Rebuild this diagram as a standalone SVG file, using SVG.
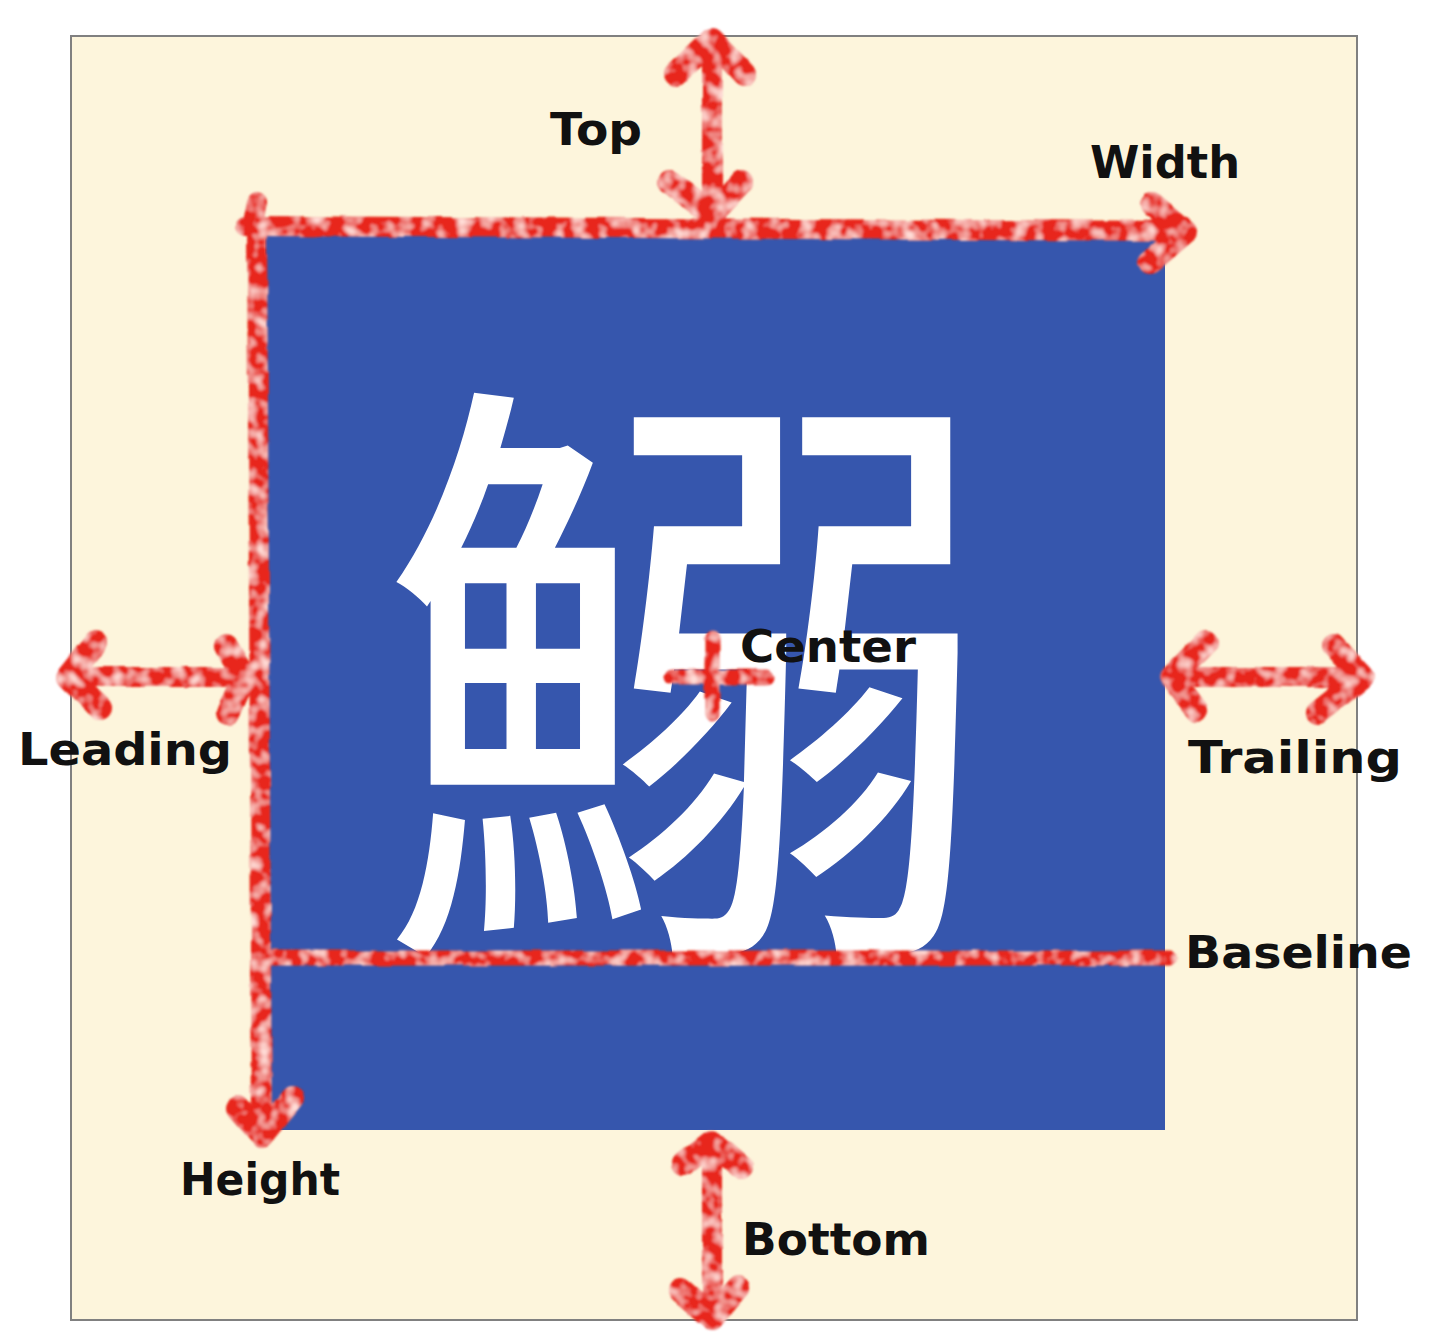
<svg xmlns="http://www.w3.org/2000/svg" width="1448" height="1338" viewBox="0 0 1448 1338">
<style>
.lbl{font-family:"DejaVu Sans","Liberation Sans",sans-serif;font-size:44px;font-weight:bold;fill:#111}
.cjk{font-family:"Noto Sans CJK JP","Noto Sans CJK SC",sans-serif;font-size:612px;fill:#ffffff}
.red{fill:none;stroke:#e8281c;stroke-linecap:round;stroke-linejoin:round}
.w18{stroke-width:20}
.w14{stroke-width:15}
.head{stroke-width:24}
</style>
<defs>
<filter id="rough" filterUnits="userSpaceOnUse" x="0" y="0" width="1448" height="1338">
<feTurbulence type="fractalNoise" baseFrequency="0.03" numOctaves="2" seed="4" result="n"/>
<feDisplacementMap in="SourceGraphic" in2="n" scale="5" xChannelSelector="R" yChannelSelector="G" result="d"/>
<feTurbulence type="fractalNoise" baseFrequency="0.07" numOctaves="2" seed="9" result="n2"/>
<feColorMatrix in="n2" type="matrix" values="0 0 0 0 1  0 0 0 0 0.72  0 0 0 0 0.68  0 0 0 -2.6 1.45" result="spots"/>
<feComposite in="spots" in2="d" operator="in" result="sp"/>
<feMerge result="m"><feMergeNode in="d"/><feMergeNode in="sp"/></feMerge>
<feGaussianBlur in="m" stdDeviation="0.9"/>
</filter>
</defs>
<rect width="1448" height="1338" fill="#ffffff"/>
<g id="canvas">
<rect x="71" y="36" width="1286" height="1284" fill="#fdf5dc" stroke="#808080" stroke-width="2"/>
</g>
<g id="glyph-box">
<rect x="265" y="230" width="900" height="900" fill="#3656ad"/>
<text class="cjk" x="684" y="907" text-anchor="middle">鰯</text>
</g>
<g id="connectors" filter="url(#rough)">
<path class="red w18" d="M245 226 L1182 231"/>
<path class="red head" d="M1152 204 L1185 232 L1150 262"/>
<path class="red w18" d="M257 202 L252 226"/>
<path class="red w18" d="M257 226 L262 1132"/>
<path class="red head" d="M238 1108 L262 1135 L292 1098"/>
<path class="red w18" d="M712 40 L712 212"/>
<path class="red head" d="M676 74 L712 40 L744 74"/>
<path class="red head" d="M670 182 L712 214 L742 182"/>
<path class="red w18" d="M712 1142 L712 1318"/>
<path class="red head" d="M684 1164 L712 1142 L742 1168"/>
<path class="red head" d="M680 1290 L712 1318 L738 1288"/>
<path class="red w18" d="M68 677 L244 677"/>
<path class="red head" d="M96 642 L68 677 L100 708"/>
<path class="red head" d="M226 646 L244 677 L228 714"/>
<path class="red w18" d="M1172 677 L1362 677"/>
<path class="red head" d="M1206 642 L1172 677 L1196 710"/>
<path class="red head" d="M1334 646 L1362 677 L1318 712"/>
<path class="red w14" d="M268 958 L1170 958"/>
<path class="red w14" d="M712 638 L712 714"/>
<path class="red w14" d="M672 677 L766 677"/>
</g>
<g id="labels">
<text id="lbl-top" class="lbl" x="550" y="145" textLength="92" lengthAdjust="spacingAndGlyphs">Top</text>
<text id="lbl-width" class="lbl" x="1090" y="178" textLength="150" lengthAdjust="spacingAndGlyphs">Width</text>
<text id="lbl-center" class="lbl" x="740" y="662" textLength="176" lengthAdjust="spacingAndGlyphs">Center</text>
<text id="lbl-leading" class="lbl" x="18" y="765" textLength="214" lengthAdjust="spacingAndGlyphs">Leading</text>
<text id="lbl-trailing" class="lbl" x="1188" y="773" textLength="214" lengthAdjust="spacingAndGlyphs">Trailing</text>
<text id="lbl-baseline" class="lbl" x="1185" y="968" textLength="227" lengthAdjust="spacingAndGlyphs">Baseline</text>
<text id="lbl-height" class="lbl" x="180" y="1195" textLength="160" lengthAdjust="spacingAndGlyphs">Height</text>
<text id="lbl-bottom" class="lbl" x="742" y="1255" textLength="188" lengthAdjust="spacingAndGlyphs">Bottom</text>
</g>
</svg>
